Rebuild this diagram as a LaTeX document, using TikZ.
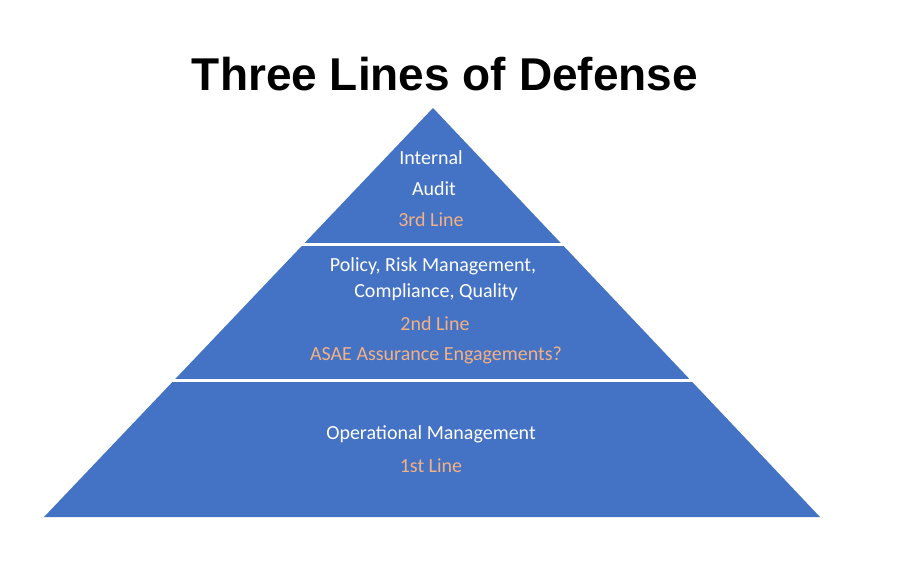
\documentclass[tikz,border=0pt]{standalone}
\usepackage{fontspec}
\setmainfont{Carlito}
\newfontfamily\titlefont{Liberation Sans}
\definecolor{pblue}{HTML}{4472C4}
\definecolor{porange}{HTML}{F4B183}
\begin{document}
\begin{tikzpicture}[x=1pt,y=-1pt,
  wt/.style={text=white,font=\fontsize{20}{24}\selectfont,align=center},
  ot/.style={text=porange,font=\fontsize{20}{24}\selectfont,align=center}]
\useasboundingbox[fill=white] (0,0) rectangle (905,572);
\node[font=\titlefont\bfseries\fontsize{46}{50}\selectfont] (title) at (445,74) {Three Lines of Defense};
\fill[pblue] (433,108) -- (820,517) -- (44,517) -- cycle;
\draw[white,line width=3pt] (250,244.5) -- (620,244.5);
\draw[white,line width=3pt] (150,380) -- (720,380);
\node[wt] (a1) at (431,158) {Internal};
\node[wt] (a2) at (434,189) {Audit};
\node[ot] (a3) at (431,220) {3rd Line};
\node[wt] (b1) at (433,266) {Policy, Risk Management,};
\node[wt] (b2) at (436,292) {Compliance, Quality};
\node[ot] (b3) at (435,324) {2nd Line};
\node[ot] (b4) at (436,355) {ASAE Assurance Engagements?};
\node[wt] (c1) at (431,434) {Operational Management};
\node[ot] (c2) at (431,466) {1st Line};
\end{tikzpicture}
\end{document}
